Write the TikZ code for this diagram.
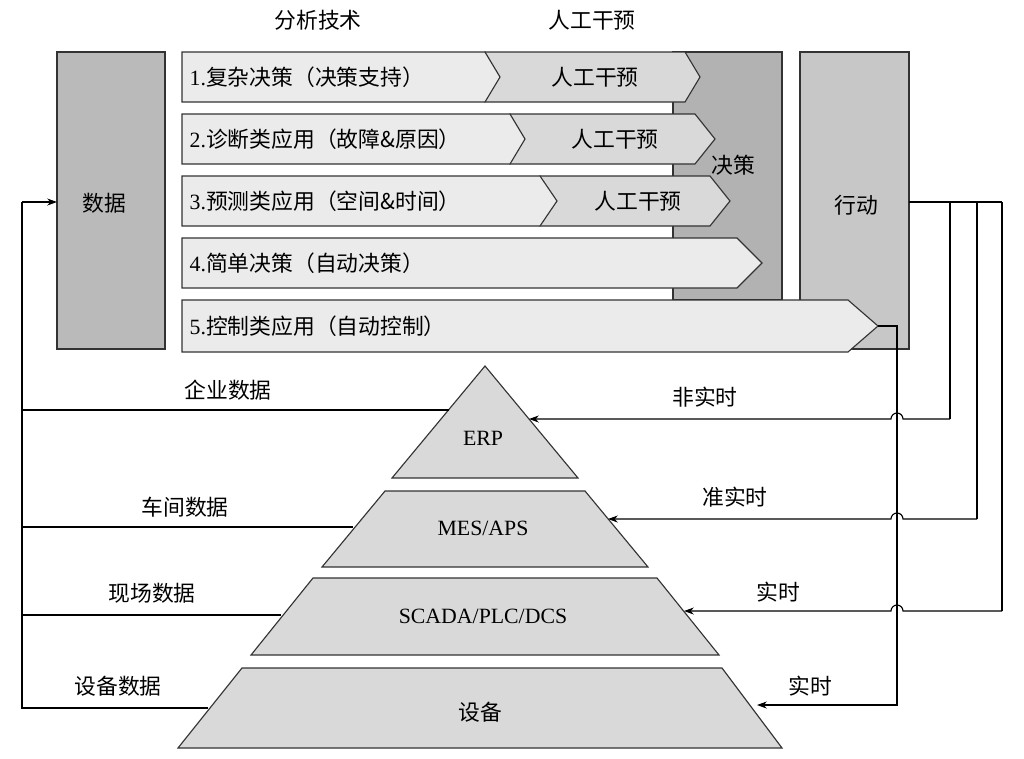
\documentclass[tikz,border=0pt]{standalone}
\usepackage{fontspec}
\setmainfont{Noto Sans CJK SC}
\newfontfamily\latinfont{Liberation Serif}
\usetikzlibrary{arrows.meta,positioning}
% one chevron: left x, body end x, tip x, top y, bottom y, fill
\newcommand{\chev}[6]{%
  \draw[#6] (#1,#4) -- (#2,#4) -- (#3,{(#4+#5)/2}) -- (#2,#5) -- (#1,#5) -- cycle;}
\tikzset{
  box/.style={draw=black!80, thick},
  lbl/.style={font=\fontsize{15.5}{18}\selectfont, inner sep=1pt},
  line/.style={thick, black},
  arr/.style={thick, black, -{Stealth[length=7pt,width=5pt]}},
}
\begin{document}
\begin{tikzpicture}[x=0.025cm, y=-0.025cm]
    \useasboundingbox (0,0) rectangle (1024,758);

    % columns
    \draw[box, fill=black!27] (57,52) rectangle (165,349);
    \draw[box, fill=black!30] (673,52) rectangle (782,300);
    \draw[box, fill=black!22] (800,52) rectangle (909,349);

    % analysis rows
    \chev{485}{685}{700}{52}{102}{box, fill=black!15}
    \chev{182}{485}{500}{52}{102}{box, fill=black!8}
    \chev{510}{695}{715}{114}{164}{box, fill=black!15}
    \chev{182}{510}{525}{114}{164}{box, fill=black!8}
    \chev{540}{710}{730}{176}{226}{box, fill=black!15}
    \chev{182}{540}{557}{176}{226}{box, fill=black!8}
    \chev{182}{737}{762}{238}{288}{box, fill=black!8}
    \chev{182}{848}{878}{300}{352}{box, fill=black!8}

    \node[lbl] (hdA) at (318,20) {分析技术};
    \node[lbl] (hdB) at (592,20) {人工干预};
    \node[lbl, anchor=west] (r1) at (188,77) {\latinfont 1.\rmfamily 复杂决策（决策支持）};
    \node[lbl] (h1) at (595,77) {人工干预};
    \node[lbl, anchor=west] (r2) at (188,139) {\latinfont 2.\rmfamily 诊断类应用（故障\&原因）};
    \node[lbl] (h2) at (615,139) {人工干预};
    \node[lbl, anchor=west] (r3) at (188,201) {\latinfont 3.\rmfamily 预测类应用（空间\&时间）};
    \node[lbl] (h3) at (638,201) {人工干预};
    \node[lbl, anchor=west] (r4) at (188,263) {\latinfont 4.\rmfamily 简单决策（自动决策）};
    \node[lbl, anchor=west] (r5) at (188,326) {\latinfont 5.\rmfamily 控制类应用（自动控制）};
    \node[lbl] (data) at (104,203) {数据};
    \node[lbl] (jc) at (733,165) {决策};
    \node[lbl] (act) at (856,205) {行动};

    % pyramid
    \draw[box, fill=black!15] (485,366) -- (578,478) -- (392,478) -- cycle;
    \draw[box, fill=black!15] (385,491) -- (585,491) -- (648,567) -- (322,567) -- cycle;
    \draw[box, fill=black!15] (313,578) -- (657,578) -- (719,655) -- (251,655) -- cycle;
    \draw[box, fill=black!15] (242,668) -- (722,668) -- (782,748) -- (178,748) -- cycle;
    \node[lbl] (erp) at (483,438) {\latinfont ERP};
    \node[lbl] (mes) at (483,528) {\latinfont MES/APS};
    \node[lbl] (scada) at (483,616) {\latinfont SCADA/PLC/DCS};
    \node[lbl] (dev) at (480,712) {设备};

    % data feedback on the left
    \coordinate (lx) at (22,202);
    \draw[line] (449,410) -- (22,410);
    \draw[line] (353,527) -- (22,527);
    \draw[line] (281,615) -- (22,615);
    \draw[line] (208,708) -- (22,708) -- (lx);
    \draw[arr] (lx) -- (57,202);
    \node[lbl] (l1) at (228,390) {企业数据};
    \node[lbl] (l2) at (185,507) {车间数据};
    \node[lbl] (l3) at (152,593) {现场数据};
    \node[lbl] (l4) at (118,686) {设备数据};

    % actions on the right
    \draw[line] (909,202) -- (1002,202);
    \draw[line] (950,202) -- (950,419);
    \draw[line] (977,202) -- (977,519);
    \draw[line] (1002,202) -- (1002,611);
    \draw[arr] (950,419) -- (903,419) arc (0:-180:6) -- (529,419);
    \draw[arr] (977,519) -- (903,519) arc (0:-180:6) -- (608,519);
    \draw[arr] (1002,611) -- (903,611) arc (0:-180:6) -- (684,611);
    \draw[arr] (878,326) -- (897,326) -- (897,705) -- (757,705);
    \node[lbl] (t1) at (705,397) {非实时};
    \node[lbl] (t2) at (735,497) {准实时};
    \node[lbl] (t3) at (778,592) {实时};
    \node[lbl] (t4) at (810,686) {实时};
\end{tikzpicture}
\end{document}
